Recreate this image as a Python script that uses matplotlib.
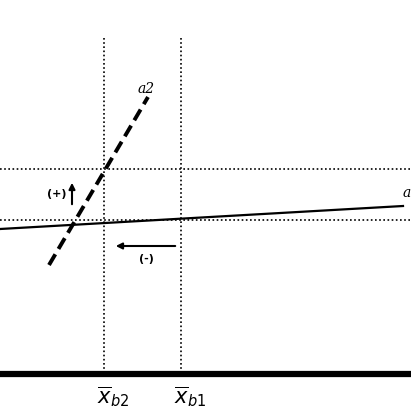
import matplotlib.pyplot as plt

# pixel-like coordinates, y grows downward
xb = [104, 181]
xb_labels = [r'$\overline{x}_{b2}$', r'$\overline{x}_{b1}$']
hy = [169, 220]
a1_x, a1_y = [0, 403], [229, 206]
a2_x, a2_y = [49, 148], [265, 97]

fig = plt.figure(figsize=(4.11, 4.11), dpi=100)
ax = fig.add_axes([0, 0, 1, 1])
ax.set_xlim(0, 411)
ax.set_ylim(411, 0)
ax.axis('off')

for x in xb:
    ax.plot([x, x], [38, 374], color='k', lw=1.2, ls=(0, (1, 1.5)))
for y in hy:
    ax.plot([0, 411], [y, y], color='k', lw=1.2, ls=(0, (1, 1.5)))

ax.plot([0, 411], [374, 374], color='k', lw=4.5, solid_capstyle='butt')
ax.plot(a1_x, a1_y, color='k', lw=1.6)
ax.plot(a2_x, a2_y, color='k', lw=2.8, ls=(0, (3.2, 1.6)))

ax.text(138, 89, 'a2', fontsize=10, style='italic', family='DejaVu Serif', va='center')
ax.text(403, 193, 'a', fontsize=10, style='italic', family='DejaVu Serif', va='center')

ax.annotate('', xy=(72, 180), xytext=(72, 207),
            arrowprops=dict(arrowstyle='-|>', color='k', lw=1.5, mutation_scale=9))
ax.text(57, 194, '(+)', fontsize=8, fontweight='bold', ha='center', va='center')
ax.annotate('', xy=(113, 246), xytext=(178, 246),
            arrowprops=dict(arrowstyle='-|>', color='k', lw=1.5, mutation_scale=9))
ax.text(146, 259, '(-)', fontsize=8, fontweight='bold', ha='center', va='center')

for x, lab in zip(xb, xb_labels):
    ax.text(x + 9, 397, lab, fontsize=15, family='DejaVu Serif', ha='center', va='center')

fig.savefig('out.png', dpi=100)
